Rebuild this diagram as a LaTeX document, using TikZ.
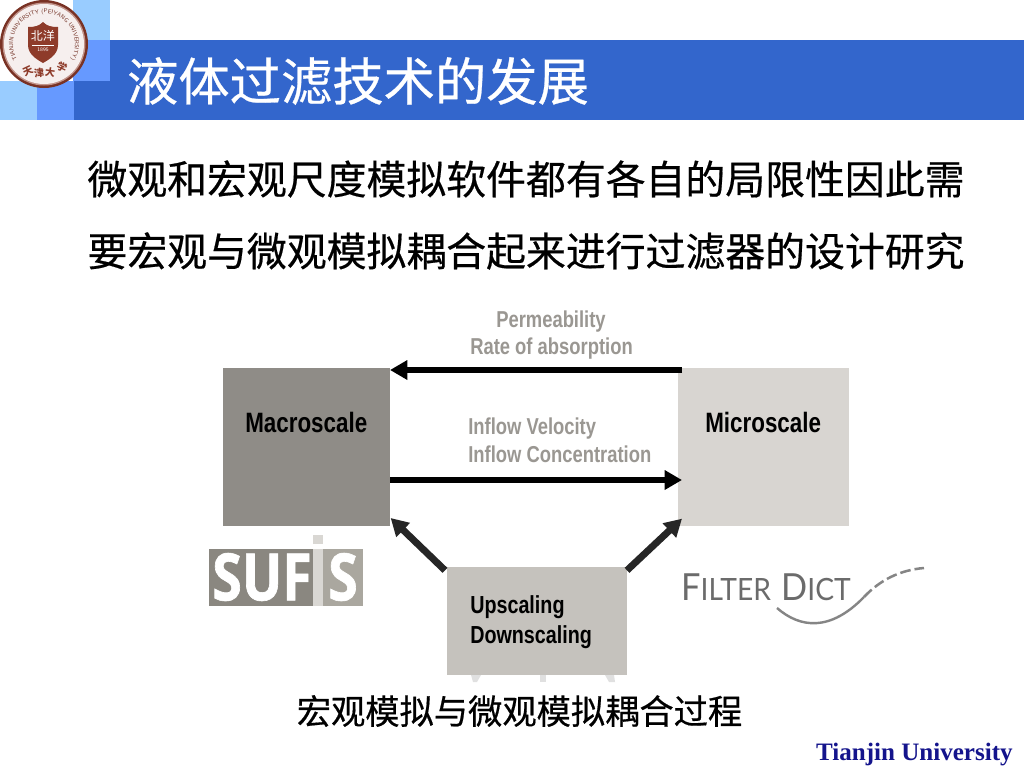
\documentclass[tikz,border=0pt]{standalone}
\usepackage{fontspec}
\usetikzlibrary{decorations.text,arrows.meta,calc}
\setmainfont{Liberation Serif}
\newfontfamily\cjk{Noto Sans CJK SC}
\newfontfamily\cjkheavy[FakeBold=0.5]{Noto Sans CJK SC}
\newfontfamily\lblfont[FakeStretch=0.8]{Liberation Sans}
\newfontfamily\sufisfont[FakeStretch=0.82,FakeBold=1]{Open Sans}
\newfontfamily\dictfont[FakeStretch=0.92]{Lato}
\definecolor{barblue}{HTML}{3366CC}
\definecolor{midblue}{HTML}{6699FF}
\definecolor{lightblue}{HTML}{99CCFF}
\definecolor{macrogray}{HTML}{8F8C87}
\definecolor{microgray}{HTML}{D8D5D1}
\definecolor{upgray}{HTML}{C5C2BD}
\definecolor{labelgray}{HTML}{9A9792}
\definecolor{seal}{HTML}{8E3B2A}
\definecolor{navytext}{HTML}{14148C}
\definecolor{sufdark}{HTML}{8A8780}
\definecolor{sufpale}{HTML}{D9D7D3}
\definecolor{sufmid}{HTML}{AAA79F}
\tikzset{
  box/.style={inner sep=0pt,outer sep=0pt,draw=none,anchor=north west},
  flow/.style={line width=4.5pt,black,-{Triangle[length=13pt,width=14pt]},shorten >=0pt},
  slant/.style={line width=5.2pt,black!85,-{Triangle[length=13pt,width=14pt]}},
  graylabel/.style={anchor=west,inner sep=0pt,text=labelgray,font=\lblfont\bfseries\fontsize{17.25}{20}\selectfont},
  boxlabel/.style={anchor=west,inner sep=0pt,text=black,font=\lblfont\bfseries\fontsize{21}{24}\selectfont},
  uplabel/.style={anchor=west,inner sep=0pt,text=black,font=\lblfont\bfseries\fontsize{18.5}{22}\selectfont},
  bodytext/.style={anchor=center,inner sep=0pt,text=black,font=\cjkheavy\fontsize{29.9}{34}\selectfont},
  sufis/.style={anchor=center,inner sep=0pt,text=white,font=\sufisfont\bfseries\fontsize{49}{50}\selectfont},
  dict/.style={anchor=west,inner sep=0pt,text=black!58},
  sealchar/.style={inner sep=0pt,text=seal,font=\cjk\bfseries\fontsize{7.5}{8}\selectfont},
}
\begin{document}
\begin{tikzpicture}[x=0.75pt,y=-0.75pt]
\useasboundingbox (0,0) rectangle (1024,768);
\fill[white] (0,0) rectangle (1024,768);
% header
\fill[lightblue] (73,0) rectangle (110,40);
\fill[midblue] (73,40) rectangle (110,81);
\fill[lightblue] (0,81) rectangle (37,120);
\fill[midblue] (37,81) rectangle (74,120);
\fill[barblue] (74,81) rectangle (110,120);
\fill[barblue] (110,40) rectangle (1024,120);
% seal
\fill[seal!85!black] (44,44) circle[radius=44];
\fill[seal!55!white] (44,44) circle[radius=41.5];
\fill[seal!8!white] (44,44) circle[radius=40];
\path[decorate,decoration={text along path,text align=center,
  text={|\fontsize{4.3}{5}\selectfont\color{seal!80!black}\sffamily|TIANJIN UNIVERSITY (PEIYANG UNIVERSITY)}}]
  (44,44) ++(148:31) arc[start angle=148,end angle=392,radius=31];
\fill[seal] (28,27) .. controls (35,27) and (39,26) .. (43,22) .. controls (47,26) and (51,27) .. (58,27) -- (58,45) .. controls (58,54) and (50,59) .. (43,63) .. controls (36,59) and (28,54) .. (28,45) -- cycle;
\node[inner sep=0pt,text=white,font=\cjk\fontsize{9}{10}\selectfont] (sealname) at (43,36) {北洋};
\draw[white,line width=0.4pt] (32,45) -- (54,45);
\node[inner sep=0pt,text=white,font=\sffamily\fontsize{4}{5}\selectfont] (sealyear) at (43,50) {1895};
\node[sealchar,rotate=25] (sealb1) at (28,71) {天};
\node[sealchar,rotate=8] (sealb2) at (39,73) {津};
\node[sealchar,rotate=-8] (sealb3) at (50,72) {大};
\node[sealchar,rotate=-25] (sealb4) at (62,67) {学};
% title and body
\node[anchor=center,inner sep=0pt,text=white,font=\cjkheavy\fontsize{38.5}{42}\selectfont] (title) at (358,81) {液体过滤技术的发展};
\node[bodytext] (line1) at (526,179) {微观和宏观尺度模拟软件都有各自的局限性因此需};
\node[bodytext] (line2) at (526,251) {要宏观与微观模拟耦合起来进行过滤器的设计研究};
% boxes
\node[box,fill=macrogray,minimum width=125.25pt,minimum height=118.5pt] (macro) at (223,368) {};
\node[box,fill=microgray,minimum width=128.25pt,minimum height=118.5pt] (micro) at (678,368) {};
\node[box,fill=upgray,minimum width=135pt,minimum height=81pt] (updown) at (447,567) {};
\node[boxlabel] (macrolabel) at (245,422) {Macroscale};
\node[boxlabel] (microlabel) at (705,422) {Microscale};
\node[uplabel] (uplabel1) at (470,607) {Upscaling};
\node[uplabel] (uplabel2) at (470,637) {Downscaling};
% arrow labels
\node[graylabel] (perm) at (496,322) {Permeability};
\node[graylabel] (rate) at (470,349) {Rate of absorption};
\node[graylabel] (vel) at (468,429) {Inflow Velocity};
\node[graylabel] (conc) at (468,454) {Inflow Concentration};
% connectors
\coordinate (microtop) at ([yshift=-1.5pt,xshift=3pt]micro.north west);
\coordinate (macrotop) at ([yshift=-1.5pt]macro.north east);
\coordinate (macrolow) at ([yshift=34.5pt]macro.south east);
\coordinate (microlow) at ([yshift=34.5pt,xshift=3pt]micro.south west);
\draw[flow] (microtop) -- (macrotop);
\draw[flow] (macrolow) -- (microlow);
\draw[slant] ([xshift=-1.5pt,yshift=-2.5pt]updown.north west) -- ([xshift=0.5pt,yshift=6pt]macro.south east);
\draw[slant] ([xshift=0pt,yshift=-2.5pt]updown.north east) -- ([xshift=3pt,yshift=5.5pt]micro.south west);
% ghost marks below the box
\fill[black!12] (471,675) -- (481,675) -- (477,682) -- (473,682) -- cycle;
\fill[black!12] (540,675) -- (546,675) -- (546,682) -- (540,682) -- cycle;
\fill[black!12] (605,675) -- (614,675) -- (615,682) -- (609,682) -- cycle;
% SUFIS logo
\fill[sufdark] (209,549) rectangle (313,606);
\fill[sufpale] (313,549) rectangle (323,606);
\fill[sufpale] (313,535) rectangle (323,544);
\fill[sufmid] (323,549) rectangle (363,606);
\node[sufis] (suf) at (262,577) {SUF};
\node[sufis] (sufs) at (343,577) {S};
% Filter Dict logo
\node[dict] (filter) at (681,587) {\dictfont{\fontsize{28}{30}\selectfont F\fontsize{23}{25}\selectfont ILTER}};
\node[dict] (dicttext) at (781,587) {\dictfont{\fontsize{28}{30}\selectfont D\fontsize{23}{25}\selectfont ICT}};
\coordinate (wavea) at (777,608);
\coordinate (waveb) at (864,597);
\coordinate (wavec) at (924,568);
\draw[black!48,line width=1.8pt] (wavea) .. controls (800,628) and (830,632) .. (waveb);
\draw[black!48,line width=1.9pt,dash pattern=on 8pt off 3pt] (waveb) .. controls (880,580) and (900,570) .. (wavec);
% caption and footer
\node[anchor=center,inner sep=0pt,text=black,font=\cjkheavy\fontsize{25.7}{28}\selectfont] (caption) at (519.5,711) {宏观模拟与微观模拟耦合过程};
\node[anchor=base east,inner sep=0pt,text=navytext,font=\bfseries\fontsize{18.8}{20}\selectfont] (footer) at (1013,760) {Tianjin University};
\end{tikzpicture}
\end{document}
